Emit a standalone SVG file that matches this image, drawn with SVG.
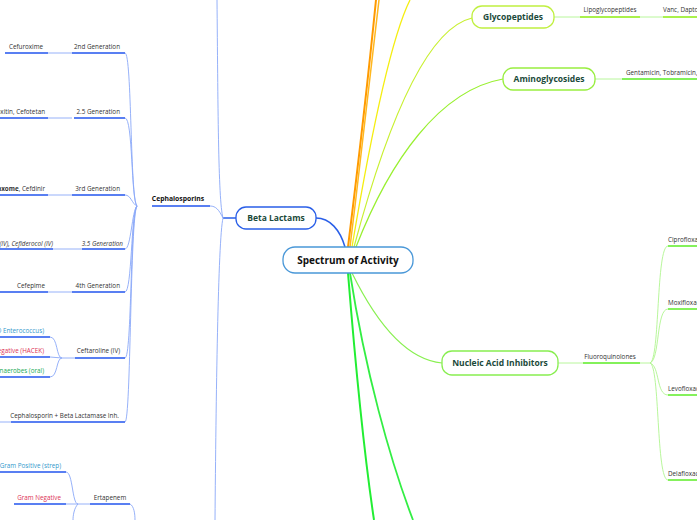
<svg xmlns="http://www.w3.org/2000/svg" width="697" height="520" viewBox="0 0 697 520">
<style>
text{font-family:"Open Sans","Liberation Sans",sans-serif;}
.s{font-size:6.3px;fill:#333;}
.b{font-size:8.5px;font-weight:bold;fill:#1b4a3a;text-anchor:middle;}
.ul{stroke:#2255ee;stroke-width:1.6;fill:none;}
.tl{stroke:#8aa8f8;stroke-width:0.9;fill:none;}
.gl{stroke:#66ee33;stroke-width:1.6;fill:none;}
.gt{stroke:#b0f590;stroke-width:0.9;fill:none;}
</style>
<rect width="697" height="520" fill="#fff"/>
<g id="connectors">
<path d="M348 247 C360 150 372 40 376 0" stroke="#ff9a00" stroke-width="2" fill="none"/>
<path d="M350 247 C362 150 374 40 379 0" stroke="#ffb820" stroke-width="1.5" fill="none"/>
<path d="M352 247 C370 140 390 40 410 0" stroke="#f5ee10" stroke-width="1.3" fill="none"/>
<path d="M354 247 C380 150 420 30 472 18" stroke="#c8f030" stroke-width="1.2" fill="none"/>
<path d="M356 247 C390 160 440 90 503 79" stroke="#99f030" stroke-width="1.2" fill="none"/>
<path d="M348 273 C355 360 365 460 374 520" stroke="#22ee33" stroke-width="2" fill="none"/>
<path d="M350 273 C365 370 390 460 413 520" stroke="#33ee44" stroke-width="1.8" fill="none"/>
<path d="M352 273 C380 330 410 360 442 363" stroke="#88f050" stroke-width="1.2" fill="none"/>
<path d="M345 247 C340 230 330 218 316 218" stroke="#2a5fe8" stroke-width="1.5" fill="none"/>
<path d="M236 218 L223 218" stroke="#2a5fe8" stroke-width="1.5"/>
<path d="M223 218 C218 200 218 100 217 0" class="tl"/>
<path d="M223 218 C218 240 216 400 215 520" class="tl"/>
<path d="M223 218 C219 210 216 206 210 206" class="tl"/>
<path d="M152 206 L210 206" class="ul"/>
<g class="tl">
<path d="M137 206 C130 200 132 53 125 53"/>
<path d="M137 206 C131 200 133 118 125 118"/>
<path d="M137 206 C132 204 131 195 125 195"/>
<path d="M137 206 C132 210 131 249 125 249"/>
<path d="M137 206 C131 212 132 292 125 292"/>
<path d="M137 206 C130 214 132 358 125 358"/>
<path d="M137 206 C130 216 131 422 125 422"/>
<path d="M48 53 L72 53"/><path d="M48 118 L72 118"/><path d="M48 195 L72 195"/>
<path d="M53 249 L82 249"/><path d="M48 292 L72 292"/><path d="M62 358 L75 358"/>
<path d="M50 337 C58 337 56 358 62 358"/><path d="M50 357 L62 358"/><path d="M50 377 C58 377 56 358 62 358"/>
<path d="M0 422 L11 422"/>
<path d="M130 504 C134 506 135 514 135 520"/>
<path d="M66 472 C73 472 72 504 78 504 L90 504"/>
<path d="M66 504 L78 504"/>
<path d="M78 504 C74 508 73 516 73 520"/>
</g>
<g class="ul">
<path d="M72 53 L125 53"/><path d="M5 53 L48 53"/>
<path d="M74 118 L125 118"/><path d="M0 118 L48 118"/>
<path d="M72 195 L125 195"/><path d="M0 195 L48 195"/>
<path d="M82 249 L125 249"/><path d="M0 249 L53 249"/>
<path d="M72 292 L125 292"/><path d="M0 292 L48 292"/>
<path d="M75 358 L125 358"/>
<path d="M0 337 L50 337"/><path d="M0 357 L50 357"/><path d="M0 377 L50 377"/>
<path d="M11 422 L125 422"/>
<path d="M0 472 L66 472"/><path d="M14 504 L66 504"/>
<path d="M90 504 L130 504"/>
</g>
<path d="M554 17 L697 17" class="gt"/>
<path d="M580 17 L640 17 M663 17 L697 17" stroke="#99ee22" stroke-width="1.6"/>
<path d="M595 79 L697 79" class="gt"/>
<path d="M622 79 L697 79" class="gl"/>
<path d="M558 363 L650 363" class="gt"/>
<path d="M583 363 L640 363" class="gl"/>
<g class="gt">
<path d="M650 363 C660 360 656 246 668 246"/>
<path d="M650 363 C660 360 656 309 668 309"/>
<path d="M650 363 C660 366 656 395 668 395"/>
<path d="M650 363 C660 366 656 480 668 480"/>
</g>
<g class="gl">
<path d="M668 246 L697 246"/><path d="M668 309 L697 309"/><path d="M668 395 L697 395"/><path d="M668 480 L697 480"/>
</g>
</g>
<g id="center"><rect x="283" y="247" width="130" height="26" rx="12" fill="#fff" stroke="#4a98d8" stroke-width="1.3"/><text x="348" y="264" class="b" style="font-size:10px;fill:#111">Spectrum of Activity</text></g>
<g id="beta"><rect x="236" y="207" width="80" height="22" rx="10" fill="#fff" stroke="#2a5fe8" stroke-width="1.3"/><text x="276" y="221" class="b">Beta Lactams</text></g>
<g id="glyco"><rect x="472" y="6" width="82" height="22" rx="10" fill="#fff" stroke="#c0f040" stroke-width="1.3"/><text x="513" y="20" class="b">Glycopeptides</text></g>
<g id="amino"><rect x="503" y="68" width="92" height="22" rx="10" fill="#fff" stroke="#99ee40" stroke-width="1.3"/><text x="549" y="82" class="b">Aminoglycosides</text></g>
<g id="nucleic"><rect x="442" y="351" width="116" height="24" rx="10" fill="#fff" stroke="#88ee50" stroke-width="1.3"/><text x="500" y="366" class="b">Nucleic Acid Inhibitors</text></g>
<g id="labels">
<text x="178" y="201" class="s" style="font-weight:bold;font-size:6.8px;fill:#111" text-anchor="middle">Cephalosporins</text>
<text x="120" y="49" class="s" text-anchor="end">2nd Generation</text>
<text x="26" y="49" class="s" text-anchor="middle">Cefuroxime</text>
<text x="120" y="114" class="s" text-anchor="end">2.5 Generation</text>
<text x="45" y="114" class="s" text-anchor="end">Cefoxitin, Cefotetan</text>
<text x="120" y="191" class="s" text-anchor="end">3rd Generation</text>
<text x="45" y="191" class="s" text-anchor="end"><tspan font-weight="bold">Ceftriaxome</tspan>, Cefdinir</text>
<text x="123" y="246" class="s" text-anchor="end" font-style="italic">3.5 Generation</text>
<text x="53" y="246" class="s" text-anchor="end" font-style="italic">Ceftobiprole (IV), Cefiderocol (IV)</text>
<text x="120" y="288" class="s" text-anchor="end">4th Generation</text>
<text x="31" y="288" class="s" text-anchor="middle">Cefepime</text>
<text x="120" y="353" class="s" text-anchor="end">Ceftaroline (IV)</text>
<text x="44" y="333" class="s" text-anchor="end" style="fill:#3399cc">Gram Positive (NO Enterococcus)</text>
<text x="44" y="353" class="s" text-anchor="end" style="fill:#dd3355">Gram Negative (HACEK)</text>
<text x="44" y="373" class="s" text-anchor="end" style="fill:#22aa55">Anaerobes (oral)</text>
<text x="119" y="418" class="s" text-anchor="end">Cephalosporin + Beta Lactamase Inh.</text>
<text x="61" y="468" class="s" text-anchor="end" style="fill:#3399cc">Gram Positive (strep)</text>
<text x="61" y="500" class="s" text-anchor="end" style="fill:#dd3355">Gram Negative</text>
<text x="110" y="500" class="s" text-anchor="middle">Ertapenem</text>
<text x="610" y="12" class="s" text-anchor="middle">Lipoglycopeptides</text>
<text x="663" y="12" class="s">Vanc, Daptomycin</text>
<text x="626" y="75" class="s">Gentamicin, Tobramicin, Amikacin</text>
<text x="610" y="359" class="s" text-anchor="middle">Fluoroquinolones</text>
<text x="668" y="242" class="s">Ciprofloxacin</text>
<text x="668" y="305" class="s">Moxifloxacin</text>
<text x="668" y="391" class="s">Levofloxacin</text>
<text x="668" y="476" class="s">Delafloxacin</text>
</g>
</svg>
